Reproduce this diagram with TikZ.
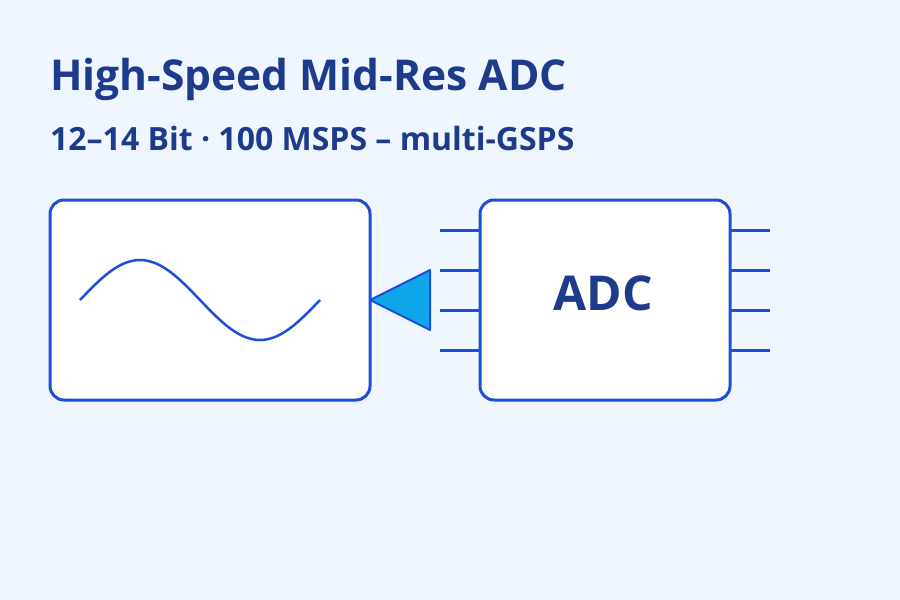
\documentclass[tikz,border=0pt]{standalone}
\usepackage{fontspec}
\setmainfont{Open Sans}
\begin{document}
\begin{tikzpicture}[x=1pt,y=-1pt,
  ln/.style={draw=blueL,line width=3pt},
  lbl/.style={text=navy,font=\bfseries,inner sep=0pt}]
\definecolor{bg}{HTML}{EFF6FF}
\definecolor{blueL}{HTML}{1D4ED8}
\definecolor{navy}{HTML}{1E3A8A}
\definecolor{tri}{HTML}{0EA5E9}
\fill[bg] (0,0) rectangle (900,600);
\useasboundingbox (0,0) rectangle (900,600);
\node[lbl,anchor=base west,font=\fontsize{42.5}{46}\selectfont\bfseries] (t) at (50,90) {High-Speed Mid-Res ADC};
\node[lbl,anchor=base west,font=\fontsize{32}{34}\selectfont\bfseries] (s) at (50,150) {12–14 Bit · 100 MSPS – multi-GSPS};
\node[ln,fill=white,rounded corners=14pt,minimum width=320pt,minimum height=200pt] (sig) at (210,300) {};
\draw[ln,line width=2.5pt] (80,300) sin (140,260) cos (200,300) sin (260,340) cos (320,300);
\foreach \y in {230,270,310,350}{
  \draw[ln] (440,\y) -- (482,\y);
  \draw[ln] (728,\y) -- (770,\y);}
\node[ln,fill=white,rounded corners=14pt,minimum width=250pt,minimum height=200pt] (adc) at (605,300) {};
\node[lbl,font=\fontsize{48}{50}\selectfont\bfseries] (al) at (603,293) {ADC};
\draw[draw=blueL,line width=2pt,fill=tri,line join=round] (370,300) -- (430,270) -- (430,330) -- cycle;
\end{tikzpicture}
\end{document}
